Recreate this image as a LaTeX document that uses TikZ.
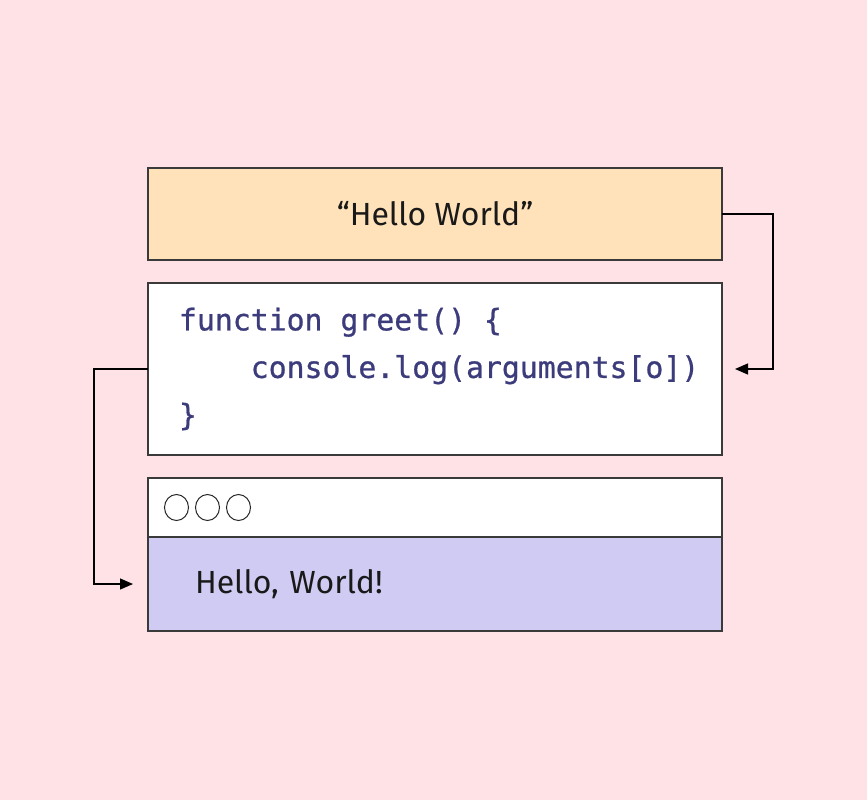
\documentclass[tikz,border=0pt]{standalone}
\usepackage{fontspec}
\setmainfont{Fira Sans}
\newfontfamily\codefont[FakeBold=0.8]{DejaVu Sans Mono}
\usepackage{xcolor}
\usetikzlibrary{positioning,shapes.geometric,arrows.meta}

\definecolor{bgpink}{HTML}{FEE2E6}
\definecolor{strfill}{HTML}{FFE2BA}
\definecolor{pagefill}{HTML}{D0CBF3}
\definecolor{codeink}{HTML}{3C3B7B}
\definecolor{edge}{HTML}{3A3A3A}

\newcommand{\codesp}{\phantom{0}}

\begin{document}
\begin{tikzpicture}[x=1pt,y=-1pt,>={Triangle[length=13pt,width=11pt]},node distance=23pt,
 box/.style={draw=edge,line width=1.3pt,minimum width=574pt,inner sep=0pt,outer sep=0pt},
 label/.style={font=\fontsize{32}{38}\selectfont,text=black!90},
 dot/.style={draw=black!85,ellipse,line width=1pt,minimum width=24pt,minimum height=26pt,inner sep=0pt},
 wire/.style={->,line width=1.2pt,black}]
\fill[bgpink] (0,0) rectangle (867,800);
\useasboundingbox (0,0) rectangle (867,800);
\node[box,fill=strfill,minimum height=92pt,label] (hello) at (435,214) {“Hello World”};
\node[box,fill=white,minimum height=172pt,below=of hello,align=left,text width=512pt,inner xsep=31pt,
 font=\codefont\fontsize{29.8}{47.5}\selectfont,text=codeink] (code)
 {function\codesp greet()\codesp\{\\ \phantom{0000}console.log(arguments[o])\\ \}};
\node[box,fill=white,minimum height=59pt,below=of code] (bar) {};
\node[box,fill=pagefill,minimum height=94pt,below=0pt of bar,label,align=left,text width=480pt,inner xsep=47pt] (page) {Hello, World!};
\node[dot,right=16pt of bar.west] (d1) {};
\node[dot,right=6pt of d1] (d2) {};
\node[dot,right=6pt of d2] (d3) {};
\draw[wire] (hello.east) -- ++(51,0) |- ([xshift=13pt]code.east);
\draw[wire] (code.west) -- ++(-54,0) |- ([xshift=-15pt]page.west);
\end{tikzpicture}
\end{document}
